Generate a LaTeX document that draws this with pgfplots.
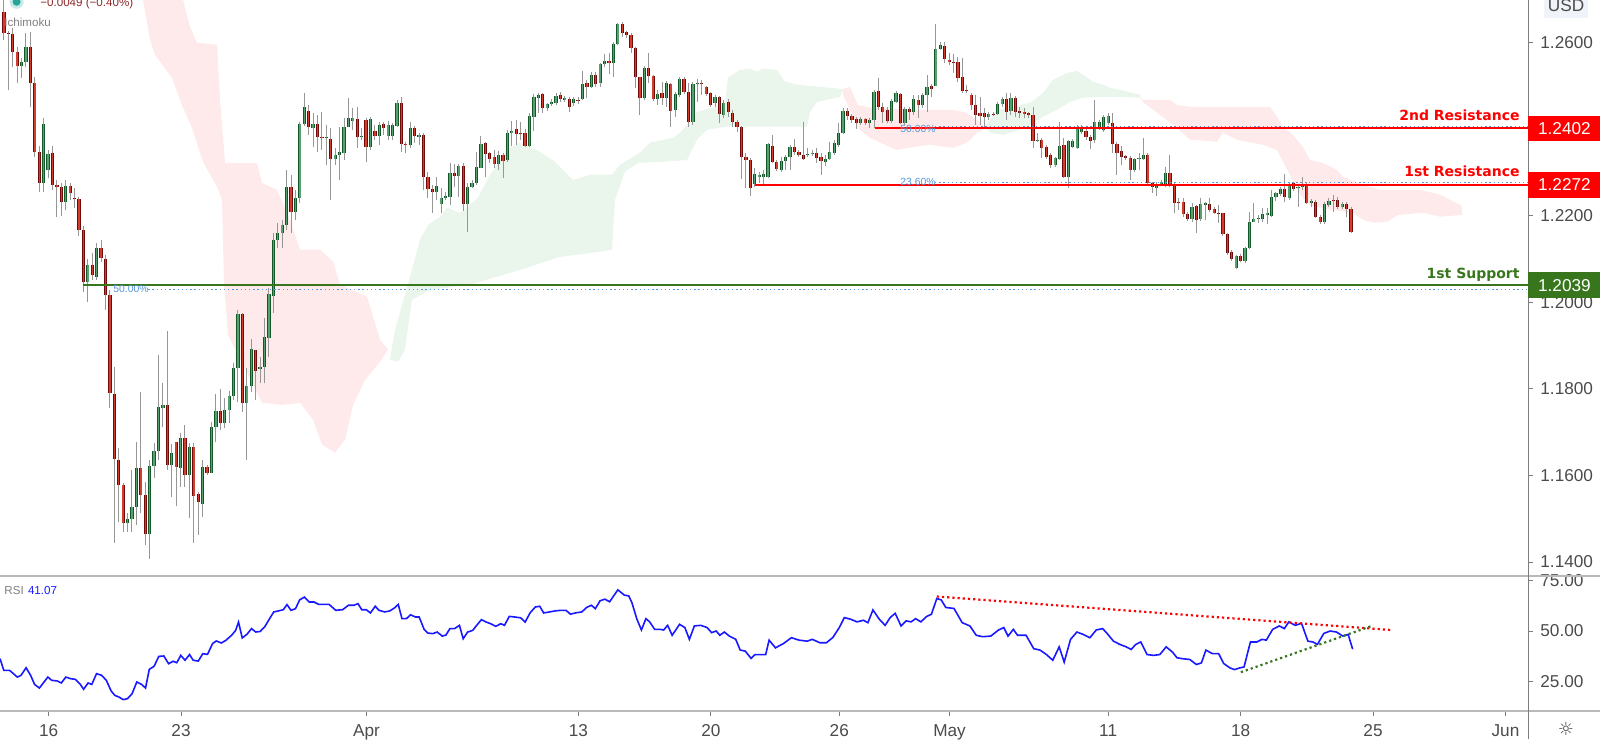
\documentclass[border=0pt]{standalone}
\usepackage{pgfplots}
\pgfplotsset{compat=1.18}
\usepackage{pgfplotstable}
\usepackage{fontspec}
\setmainfont{Liberation Sans}
\newfontfamily\dv{DejaVu Sans}
\definecolor{upfill}{RGB}{88,160,112}
\definecolor{upedge}{RGB}{18,88,40}
\definecolor{dnfill}{RGB}{208,62,45}
\definecolor{dnedge}{RGB}{115,10,10}
\definecolor{wick}{RGB}{150,150,150}
\definecolor{cloudR}{RGB}{254,234,234}
\definecolor{cloudG}{RGB}{234,245,236}
\definecolor{resred}{RGB}{255,0,0}
\definecolor{supgreen}{RGB}{56,118,29}
\definecolor{fibblue}{RGB}{85,150,220}
\definecolor{axgray}{RGB}{125,125,125}
\definecolor{sepgray}{RGB}{185,185,185}
\definecolor{txtgray}{RGB}{75,75,75}
\definecolor{rsiblue}{RGB}{25,25,255}
\definecolor{tealc}{RGB}{38,166,154}
\definecolor{chgred}{RGB}{140,40,40}
\definecolor{usdbg}{RGB}{240,243,250}
\newcommand\tfont{\fontsize{8.6}{10}\selectfont}
\newcommand\sfont{\fontsize{5.8}{7}\selectfont}

\pgfplotstableread{
t o h l c
0 1.2671 1.2699 1.2607 1.2623
1 1.2623 1.2627 1.2491 1.2620
2 1.2620 1.2634 1.2544 1.2579
3 1.2579 1.2590 1.2507 1.2547
4 1.2547 1.2565 1.2519 1.2556
5 1.2556 1.2623 1.2544 1.2590
6 1.2590 1.2625 1.2452 1.2507
7 1.2507 1.2521 1.2336 1.2348
8 1.2348 1.2362 1.2256 1.2276
9 1.2276 1.2426 1.2256 1.2413
10 1.2306 1.2352 1.2288 1.2343
11 1.2345 1.2362 1.2260 1.2272
12 1.2272 1.2283 1.2198 1.2267
13 1.2267 1.2276 1.2200 1.2232
14 1.2232 1.2283 1.2214 1.2269
15 1.2269 1.2276 1.2237 1.2253
16 1.2242 1.2265 1.2219 1.2239
17 1.2239 1.2244 1.2154 1.2168
18 1.2168 1.2177 1.2024 1.2048
19 1.2048 1.2101 1.2001 1.2087
20 1.2087 1.2115 1.2052 1.2064
21 1.2059 1.2138 1.2052 1.2126
22 1.2126 1.2145 1.2094 1.2103
23 1.2101 1.2110 1.1983 1.2018
24 1.2018 1.2029 1.1757 1.1791
25 1.1789 1.1851 1.1445 1.1639
26 1.1636 1.1664 1.1493 1.1579
27 1.1579 1.1583 1.1470 1.1491
28 1.1491 1.1514 1.1470 1.1500
29 1.1500 1.1613 1.1470 1.1528
30 1.1528 1.1678 1.1486 1.1618
31 1.1618 1.1793 1.1514 1.1556
32 1.1556 1.1586 1.1440 1.1465
33 1.1465 1.1636 1.1408 1.1622
34 1.1622 1.1676 1.1595 1.1657
35 1.1657 1.1879 1.1636 1.1759
36 1.1757 1.1814 1.1713 1.1763
37 1.1763 1.1934 1.1613 1.1625
38 1.1625 1.1673 1.1551 1.1653
39 1.1678 1.1678 1.1530 1.1620
40 1.1618 1.1699 1.1574 1.1687
41 1.1687 1.1717 1.1574 1.1602
42 1.1602 1.1676 1.1502 1.1666
43 1.1666 1.1676 1.1445 1.1553
44 1.1558 1.1562 1.1463 1.1539
45 1.1535 1.1636 1.1505 1.1620
46 1.1620 1.1625 1.1602 1.1606
47 1.1606 1.1724 1.1606 1.1713
48 1.1713 1.1789 1.1678 1.1750
49 1.1750 1.1800 1.1706 1.1722
50 1.1722 1.1780 1.1710 1.1752
51 1.1752 1.1796 1.1722 1.1784
52 1.1784 1.1860 1.1775 1.1849
53 1.1849 1.1983 1.1770 1.1974
54 1.1974 1.1976 1.1747 1.1768
55 1.1768 1.1849 1.1636 1.1807
56 1.1807 1.1916 1.1793 1.1893
57 1.1891 1.1891 1.1775 1.1842
58 1.1847 1.1874 1.1814 1.1851
59 1.1851 1.1964 1.1814 1.1921
60 1.1918 1.2034 1.1874 1.2020
61 1.2015 1.2161 1.1976 1.2145
62 1.2145 1.2184 1.2126 1.2161
63 1.2161 1.2191 1.2126 1.2179
64 1.2179 1.2306 1.2168 1.2267
65 1.2267 1.2295 1.2161 1.2209
66 1.2209 1.2260 1.2191 1.2242
67 1.2242 1.2417 1.2230 1.2413
68 1.2413 1.2484 1.2408 1.2452
69 1.2443 1.2456 1.2387 1.2406
70 1.2403 1.2438 1.2359 1.2413
71 1.2413 1.2433 1.2348 1.2383
72 1.2383 1.2440 1.2352 1.2380
73 1.2380 1.2410 1.2318 1.2383
74 1.2378 1.2403 1.2237 1.2332
75 1.2332 1.2357 1.2318 1.2341
76 1.2341 1.2406 1.2283 1.2348
77 1.2345 1.2426 1.2329 1.2406
78 1.2406 1.2473 1.2406 1.2426
79 1.2419 1.2450 1.2399 1.2426
80 1.2424 1.2452 1.2357 1.2383
81 1.2383 1.2403 1.2376 1.2385
82 1.2422 1.2426 1.2325 1.2359
83 1.2359 1.2429 1.2352 1.2424
84 1.2396 1.2410 1.2376 1.2385
85 1.2385 1.2417 1.2364 1.2410
86 1.2413 1.2417 1.2387 1.2403
87 1.2385 1.2419 1.2376 1.2410
88 1.2385 1.2415 1.2376 1.2410
89 1.2408 1.2468 1.2406 1.2461
90 1.2461 1.2475 1.2348 1.2366
91 1.2366 1.2371 1.2345 1.2364
92 1.2364 1.2417 1.2357 1.2403
93 1.2403 1.2408 1.2369 1.2385
94 1.2383 1.2392 1.2364 1.2387
95 1.2387 1.2392 1.2260 1.2290
96 1.2290 1.2302 1.2242 1.2262
97 1.2262 1.2272 1.2207 1.2256
98 1.2256 1.2290 1.2237 1.2269
99 1.2228 1.2265 1.2207 1.2242
100 1.2242 1.2256 1.2237 1.2246
101 1.2244 1.2322 1.2225 1.2299
102 1.2299 1.2320 1.2267 1.2292
103 1.2292 1.2320 1.2244 1.2316
104 1.2316 1.2322 1.2212 1.2228
105 1.2228 1.2276 1.2163 1.2267
106 1.2267 1.2283 1.2265 1.2276
107 1.2276 1.2348 1.2272 1.2313
108 1.2311 1.2385 1.2311 1.2366
109 1.2369 1.2371 1.2290 1.2343
110 1.2345 1.2348 1.2322 1.2332
111 1.2336 1.2352 1.2311 1.2320
112 1.2320 1.2350 1.2306 1.2341
113 1.2341 1.2345 1.2288 1.2327
114 1.2329 1.2399 1.2325 1.2392
115 1.2392 1.2419 1.2362 1.2396
116 1.2401 1.2422 1.2364 1.2389
117 1.2392 1.2417 1.2376 1.2389
118 1.2392 1.2401 1.2359 1.2362
119 1.2362 1.2438 1.2359 1.2431
120 1.2429 1.2482 1.2396 1.2475
121 1.2473 1.2484 1.2438 1.2480
122 1.2482 1.2484 1.2438 1.2450
123 1.2450 1.2461 1.2443 1.2459
124 1.2459 1.2470 1.2454 1.2463
125 1.2461 1.2484 1.2456 1.2477
126 1.2480 1.2486 1.2463 1.2470
127 1.2468 1.2477 1.2463 1.2473
128 1.2470 1.2475 1.2440 1.2452
129 1.2461 1.2475 1.2454 1.2470
130 1.2468 1.2475 1.2459 1.2467
131 1.2470 1.2535 1.2468 1.2505
132 1.2507 1.2514 1.2473 1.2498
133 1.2498 1.2533 1.2496 1.2526
134 1.2526 1.2533 1.2498 1.2505
135 1.2507 1.2553 1.2498 1.2551
136 1.2551 1.2574 1.2544 1.2558
137 1.2558 1.2577 1.2528 1.2553
138 1.2553 1.2602 1.2521 1.2597
139 1.2597 1.2646 1.2595 1.2644
140 1.2644 1.2648 1.2614 1.2623
141 1.2625 1.2627 1.2611 1.2618
142 1.2618 1.2623 1.2577 1.2588
143 1.2588 1.2590 1.2496 1.2521
144 1.2521 1.2521 1.2433 1.2473
145 1.2473 1.2547 1.2468 1.2542
146 1.2542 1.2577 1.2507 1.2523
147 1.2523 1.2526 1.2466 1.2470
148 1.2470 1.2491 1.2456 1.2482
149 1.2484 1.2510 1.2456 1.2473
150 1.2473 1.2512 1.2452 1.2507
151 1.2505 1.2507 1.2406 1.2443
152 1.2445 1.2486 1.2429 1.2482
153 1.2480 1.2521 1.2475 1.2517
154 1.2517 1.2521 1.2482 1.2486
155 1.2486 1.2507 1.2406 1.2417
156 1.2417 1.2510 1.2410 1.2505
157 1.2505 1.2517 1.2463 1.2507
158 1.2507 1.2514 1.2480 1.2505
159 1.2498 1.2500 1.2477 1.2482
160 1.2484 1.2486 1.2452 1.2456
161 1.2461 1.2480 1.2452 1.2475
162 1.2475 1.2477 1.2415 1.2436
163 1.2433 1.2468 1.2426 1.2461
164 1.2463 1.2470 1.2429 1.2440
165 1.2438 1.2445 1.2406 1.2417
166 1.2417 1.2422 1.2394 1.2406
167 1.2406 1.2408 1.2286 1.2336
168 1.2336 1.2345 1.2265 1.2329
169 1.2329 1.2334 1.2246 1.2265
170 1.2274 1.2311 1.2267 1.2297
171 1.2290 1.2302 1.2276 1.2295
172 1.2290 1.2306 1.2272 1.2297
173 1.2290 1.2369 1.2288 1.2366
174 1.2362 1.2387 1.2322 1.2325
175 1.2325 1.2329 1.2304 1.2309
176 1.2306 1.2336 1.2302 1.2327
177 1.2327 1.2341 1.2306 1.2336
178 1.2336 1.2364 1.2306 1.2359
179 1.2359 1.2378 1.2341 1.2348
180 1.2348 1.2352 1.2336 1.2341
181 1.2341 1.2417 1.2329 1.2332
182 1.2341 1.2357 1.2336 1.2343
183 1.2343 1.2352 1.2339 1.2345
184 1.2345 1.2357 1.2322 1.2334
185 1.2336 1.2345 1.2295 1.2327
186 1.2325 1.2341 1.2316 1.2332
187 1.2332 1.2371 1.2329 1.2348
188 1.2345 1.2376 1.2341 1.2369
189 1.2364 1.2415 1.2359 1.2392
190 1.2392 1.2450 1.2389 1.2443
191 1.2443 1.2450 1.2422 1.2431
192 1.2431 1.2436 1.2415 1.2422
193 1.2424 1.2429 1.2401 1.2415
194 1.2415 1.2429 1.2410 1.2424
195 1.2424 1.2426 1.2410 1.2415
196 1.2415 1.2426 1.2403 1.2422
197 1.2422 1.2491 1.2403 1.2486
198 1.2489 1.2519 1.2445 1.2452
199 1.2452 1.2461 1.2415 1.2440
200 1.2445 1.2452 1.2415 1.2419
201 1.2419 1.2470 1.2415 1.2466
202 1.2463 1.2489 1.2461 1.2484
203 1.2482 1.2484 1.2413 1.2415
204 1.2415 1.2452 1.2410 1.2447
205 1.2447 1.2452 1.2422 1.2440
206 1.2440 1.2480 1.2433 1.2470
207 1.2468 1.2480 1.2426 1.2456
208 1.2456 1.2484 1.2450 1.2480
209 1.2480 1.2526 1.2440 1.2498
210 1.2500 1.2505 1.2475 1.2493
211 1.2500 1.2644 1.2500 1.2586
212 1.2586 1.2602 1.2583 1.2595
213 1.2593 1.2602 1.2553 1.2563
214 1.2560 1.2577 1.2549 1.2556
215 1.2556 1.2574 1.2530 1.2553
216 1.2556 1.2567 1.2510 1.2519
217 1.2521 1.2565 1.2484 1.2489
218 1.2491 1.2503 1.2484 1.2489
219 1.2480 1.2484 1.2445 1.2456
220 1.2456 1.2480 1.2410 1.2433
221 1.2438 1.2475 1.2410 1.2431
222 1.2438 1.2450 1.2403 1.2429
223 1.2429 1.2440 1.2422 1.2436
224 1.2436 1.2440 1.2431 1.2435
225 1.2436 1.2463 1.2433 1.2459
226 1.2459 1.2475 1.2452 1.2470
227 1.2470 1.2484 1.2422 1.2440
228 1.2443 1.2484 1.2433 1.2473
229 1.2473 1.2477 1.2429 1.2440
230 1.2443 1.2452 1.2426 1.2438
231 1.2440 1.2450 1.2426 1.2436
232 1.2438 1.2440 1.2426 1.2433
233 1.2433 1.2452 1.2357 1.2373
234 1.2373 1.2392 1.2371 1.2376
235 1.2376 1.2380 1.2334 1.2357
236 1.2359 1.2364 1.2332 1.2336
237 1.2341 1.2345 1.2311 1.2318
238 1.2318 1.2336 1.2313 1.2334
239 1.2332 1.2417 1.2329 1.2362
240 1.2364 1.2380 1.2288 1.2290
241 1.2290 1.2376 1.2265 1.2373
242 1.2359 1.2378 1.2357 1.2373
243 1.2357 1.2410 1.2355 1.2403
244 1.2394 1.2410 1.2389 1.2403
245 1.2396 1.2406 1.2376 1.2383
246 1.2383 1.2387 1.2355 1.2373
247 1.2376 1.2468 1.2369 1.2417
248 1.2406 1.2422 1.2399 1.2417
249 1.2399 1.2433 1.2394 1.2429
250 1.2415 1.2438 1.2410 1.2431
251 1.2415 1.2438 1.2345 1.2366
252 1.2366 1.2371 1.2295 1.2345
253 1.2350 1.2362 1.2318 1.2336
254 1.2339 1.2341 1.2329 1.2334
255 1.2334 1.2339 1.2283 1.2306
256 1.2306 1.2334 1.2302 1.2332
257 1.2332 1.2345 1.2306 1.2334
258 1.2332 1.2380 1.2329 1.2341
259 1.2341 1.2345 1.2272 1.2276
260 1.2276 1.2279 1.2253 1.2267
261 1.2265 1.2279 1.2246 1.2274
262 1.2274 1.2283 1.2269 1.2279
263 1.2272 1.2313 1.2267 1.2299
264 1.2299 1.2341 1.2267 1.2272
265 1.2272 1.2276 1.2207 1.2230
266 1.2232 1.2242 1.2214 1.2230
267 1.2232 1.2242 1.2198 1.2205
268 1.2205 1.2209 1.2189 1.2193
269 1.2193 1.2230 1.2186 1.2221
270 1.2223 1.2225 1.2161 1.2191
271 1.2193 1.2242 1.2189 1.2228
272 1.2225 1.2232 1.2191 1.2230
273 1.2228 1.2242 1.2209 1.2214
274 1.2216 1.2221 1.2205 1.2207
275 1.2207 1.2225 1.2184 1.2205
276 1.2207 1.2207 1.2154 1.2158
277 1.2158 1.2161 1.2110 1.2115
278 1.2117 1.2122 1.2096 1.2101
279 1.2080 1.2110 1.2078 1.2108
280 1.2108 1.2112 1.2094 1.2096
281 1.2096 1.2128 1.2091 1.2126
282 1.2126 1.2209 1.2124 1.2186
283 1.2186 1.2230 1.2186 1.2193
284 1.2193 1.2202 1.2184 1.2195
285 1.2193 1.2219 1.2186 1.2205
286 1.2202 1.2219 1.2182 1.2207
287 1.2200 1.2260 1.2198 1.2244
288 1.2244 1.2256 1.2235 1.2253
289 1.2251 1.2267 1.2246 1.2262
290 1.2262 1.2297 1.2232 1.2244
291 1.2242 1.2279 1.2237 1.2274
292 1.2276 1.2279 1.2258 1.2262
293 1.2265 1.2272 1.2221 1.2267
294 1.2267 1.2290 1.2260 1.2269
295 1.2272 1.2279 1.2228 1.2230
296 1.2230 1.2239 1.2221 1.2235
297 1.2232 1.2237 1.2195 1.2198
298 1.2198 1.2202 1.2182 1.2186
299 1.2186 1.2232 1.2182 1.2228
300 1.2225 1.2242 1.2221 1.2235
301 1.2237 1.2249 1.2209 1.2235
302 1.2237 1.2244 1.2216 1.2221
303 1.2221 1.2232 1.2216 1.2228
304 1.2228 1.2232 1.2198 1.2216
305 1.2216 1.2221 1.2161 1.2163
}\candles

\pgfplotstableread{
x v
-1.835 36.4
-1.69 30.6
-1.47 30.6
-1.18 27.3
-1.04 28.2
-0.85 31.9
-0.68 28.2
-0.53 23.7
-0.35 21.9
-0.17 24.9
-0.03 27.3
0.12 25.7
0.33 25.4
0.48 24.4
0.65 27.3
0.84 26.5
1.01 26.2
1.20 23.7
1.32 21.3
1.49 24.4
1.63 23.7
1.81 29.0
2.00 28.2
2.18 25.7
2.36 20.5
2.50 18.3
2.65 17.5
2.82 16.2
2.98 16.7
3.15 19.1
3.33 24.9
3.51 23.7
3.66 21.9
3.80 31.1
3.98 32.6
4.16 37.5
4.35 37.7
4.53 33.9
4.70 35.1
4.84 34.4
4.99 38.0
5.15 35.6
5.32 38.4
5.46 35.6
5.65 35.2
5.82 38.8
6.00 38.5
6.19 43.8
6.33 45.1
6.52 44.1
6.69 45.4
6.91 47.9
7.06 50.3
7.17 54.4
7.31 46.6
7.49 48.4
7.66 51.2
7.82 49.5
7.99 49.8
8.17 52.3
8.32 55.6
8.50 59.4
8.68 59.9
8.86 60.5
9.00 63.0
9.15 60.2
9.32 61.0
9.48 65.4
9.66 66.7
9.84 64.3
10.02 64.3
10.20 63.1
10.38 63.1
10.59 63.1
10.84 60.2
11.10 60.5
11.32 62.7
11.53 62.7
11.68 63.5
11.82 60.5
11.99 60.5
12.15 58.9
12.33 62.2
12.47 60.2
12.69 59.4
12.88 59.9
13.05 61.3
13.20 63.1
13.34 56.1
13.51 56.1
13.66 58.0
13.85 56.9
13.99 56.9
14.18 50.7
14.32 49.0
14.50 48.7
14.67 49.5
14.86 47.5
15.00 48.0
15.15 51.2
15.33 51.2
15.51 52.8
15.65 46.2
15.82 49.5
16.01 50.3
16.16 52.8
16.34 55.6
16.52 54.4
16.69 53.6
16.88 52.3
17.07 53.6
17.21 52.8
17.39 57.2
17.60 56.9
17.82 56.5
17.99 54.4
18.18 59.0
18.37 61.8
18.54 62.2
18.69 58.9
18.91 59.4
19.12 59.9
19.34 60.2
19.53 60.2
19.70 58.3
19.92 59.0
20.13 59.4
20.31 61.6
20.49 62.7
20.64 61.0
20.82 64.9
21.00 65.7
21.18 64.4
21.49 70.3
21.73 67.7
21.90 67.3
22.02 64.0
22.21 55.8
22.38 50.5
22.55 56.1
22.69 54.5
22.88 50.8
23.10 50.8
23.22 50.5
23.37 52.8
23.54 47.9
23.82 53.3
24.02 51.7
24.19 45.9
24.38 52.5
24.62 52.8
24.86 51.7
25.03 49.2
25.20 50.0
25.34 47.9
25.51 49.5
25.70 47.5
25.94 45.9
26.11 40.6
26.30 40.1
26.52 36.5
26.67 38.4
26.88 38.4
27.07 38.4
27.20 45.5
27.44 41.7
27.75 43.9
28.04 46.7
28.33 45.5
28.64 45.0
28.83 45.9
29.12 44.2
29.36 44.2
29.60 46.7
29.85 51.7
30.04 56.6
30.28 55.8
30.52 54.5
30.76 55.3
30.93 54.1
31.12 60.4
31.36 55.8
31.58 52.8
31.77 56.6
31.96 58.7
32.18 52.5
32.37 55.0
32.56 54.5
32.73 56.1
32.93 54.5
33.14 57.1
33.33 58.3
33.53 66.0
33.70 65.3
33.87 61.6
34.18 61.1
34.49 54.1
34.78 52.5
35.02 47.9
35.26 47.2
35.57 47.5
35.86 50.5
36.06 51.7
36.22 47.5
36.42 50.8
36.58 47.9
36.90 47.9
37.19 41.3
37.43 40.6
37.67 38.4
37.91 35.6
38.15 42.2
38.34 34.7
38.58 45.9
38.82 49.5
39.06 48.3
39.31 46.7
39.55 50.5
39.79 51.2
39.96 48.8
40.20 45.0
40.44 43.4
40.68 42.2
40.87 40.9
41.04 43.4
41.23 44.6
41.47 38.4
41.71 38.0
41.95 38.4
42.19 42.2
42.43 39.6
42.60 36.8
42.84 36.3
43.08 36.0
43.33 33.5
43.52 34.3
43.69 40.6
43.93 38.9
44.17 38.9
44.36 34.0
44.60 31.8
44.77 31.0
44.96 31.8
45.13 32.3
45.37 44.6
45.61 44.6
45.81 45.9
45.97 45.5
46.21 50.8
46.46 52.5
46.65 51.2
46.82 54.5
47.06 52.8
47.30 53.8
47.54 45.0
47.73 44.6
47.90 43.4
48.14 48.8
48.38 50.0
48.62 49.5
48.86 47.5
49.06 48.3
49.23 41.07
}\rsi

\begin{document}
\begin{tikzpicture}
\useasboundingbox (0,0) rectangle (800pt,369.5pt);
% ---------------- price panel ----------------
\begin{axis}[
  at={(0pt,81.5pt)}, anchor=south west, scale only axis,
  width=764pt, height=288pt,
  xmin=-1.835, xmax=55.85, ymin=1.13677, ymax=1.26987,
  clip=false, hide x axis,
  axis y line*=right, y axis line style={draw=none},
  ytick={1.14,1.16,1.18,1.2,1.22,1.24,1.26},
  yticklabels={1.1400,1.1600,1.1800,1.2000,1.2200,1.2400,1.2600},
  tick align=outside, major tick length=2.5pt,
  tick style={draw=axgray, line width=0.5pt},
  yticklabel style={anchor=west, inner sep=0pt, xshift=3.5pt, font=\tfont, text=txtgray},
  candle/.style={draw=none, mark=none, forget plot,
    error bars/y dir=plus, error bars/y explicit, error bars/error mark=none},
]
% Ichimoku cloud
\addplot[fill=cloudR, draw=none, forget plot] coordinates {
(3.564,1.2699) (5.074,1.2699) (5.338,1.2637) (5.602,1.2600) (6.357,1.2595) (6.471,1.2468) (6.660,1.2322) (7.868,1.2322) (8.056,1.2276) (8.622,1.2260) (9.113,1.2191) (9.491,1.2122) (10.246,1.2122) (10.736,1.2094) (11.001,1.2041) (12.020,1.2013) (12.511,1.1914) (12.813,1.1891) (12.511,1.1863) (11.945,1.1821) (11.492,1.1763) (11.190,1.1683) (10.812,1.1653) (10.322,1.1671) (9.982,1.1729) (9.491,1.1768) (8.849,1.1763) (8.056,1.1768) (6.772,1.1925) (6.621,1.2045) (6.546,1.2237) (6.357,1.2267) (5.829,1.2325) (5.414,1.2403) (5.036,1.2456) (4.659,1.2519) (4.017,1.2572) (3.828,1.2607)} --cycle;
\addplot[fill=cloudG, draw=none, forget plot] coordinates {
(12.888,1.1868) (13.077,1.1937) (13.454,1.2018) (13.718,1.2075) (14.020,1.2145) (14.322,1.2179) (14.775,1.2198) (15.039,1.2219) (15.530,1.2207) (15.908,1.2225) (16.210,1.2242) (16.663,1.2295) (17.040,1.2329) (17.418,1.2357) (17.795,1.2369) (18.173,1.2359) (18.550,1.2348) (19.116,1.2325) (19.796,1.2283) (20.438,1.2295) (21.268,1.2295) (21.570,1.2318) (22.325,1.2346) (22.703,1.2369) (23.571,1.2380) (23.835,1.2392) (24.213,1.2415) (24.477,1.2440) (25.081,1.2450) (25.534,1.2456) (25.647,1.2519) (26.100,1.2537) (26.478,1.2540) (26.742,1.2533) (26.969,1.2540) (27.497,1.2537) (27.799,1.2510) (28.252,1.2503) (29.989,1.2493) (29.876,1.2475) (29.007,1.2463) (28.743,1.2440) (28.630,1.2406) (25.610,1.2406) (24.854,1.2399) (24.477,1.2376) (24.289,1.2352) (24.100,1.2329) (23.194,1.2325) (22.250,1.2322) (21.759,1.2302) (21.381,1.2237) (21.268,1.2122) (20.815,1.2117) (19.305,1.2105) (17.795,1.2075) (15.908,1.2041) (14.398,1.2029) (13.718,1.2006) (13.454,1.1891) (13.190,1.1863)} --cycle;
\addplot[fill=cloudR, draw=none, forget plot] coordinates {
(29.989,1.2493) (30.253,1.2498) (30.555,1.2456) (31.008,1.2450) (32.631,1.2445) (34.141,1.2445) (34.670,1.2438) (35.160,1.2415) (35.425,1.2403) (35.047,1.2392) (34.670,1.2369) (34.141,1.2357) (33.273,1.2364) (32.631,1.2359) (32.027,1.2352) (31.763,1.2359) (31.008,1.2380) (30.630,1.2399) (30.253,1.2445) (29.989,1.2480)} --cycle;
\addplot[fill=cloudG, draw=none, forget plot] coordinates {
(35.349,1.2406) (35.802,1.2445) (36.406,1.2452) (37.048,1.2461) (37.538,1.2484) (37.916,1.2514) (38.444,1.2530) (38.822,1.2535) (39.048,1.2526) (39.426,1.2510) (39.803,1.2503) (40.067,1.2496) (40.445,1.2491) (41.200,1.2480) (41.200,1.2473) (40.445,1.2475) (39.803,1.2475) (39.048,1.2473) (38.557,1.2463) (38.067,1.2445) (37.538,1.2429) (37.048,1.2410) (36.670,1.2399) (36.028,1.2387) (35.538,1.2392)} --cycle;
\addplot[fill=cloudR, draw=none, forget plot] coordinates {
(41.200,1.2477) (41.313,1.2468) (42.333,1.2468) (42.597,1.2456) (43.088,1.2452) (46.108,1.2452) (46.372,1.2429) (46.599,1.2406) (46.976,1.2387) (47.354,1.2359) (47.618,1.2329) (48.109,1.2322) (48.637,1.2306) (48.864,1.2290) (49.619,1.2272) (50.260,1.2260) (51.770,1.2260) (52.525,1.2249) (52.903,1.2237) (53.356,1.2223) (53.356,1.2202) (52.525,1.2198) (51.884,1.2207) (50.940,1.2202) (50.525,1.2186) (49.996,1.2184) (49.619,1.2191) (49.241,1.2207) (48.373,1.2214) (47.618,1.2225) (47.240,1.2249) (46.863,1.2295) (46.372,1.2352) (45.843,1.2364) (44.862,1.2376) (44.334,1.2392) (44.107,1.2371) (43.088,1.2376) (42.597,1.2403) (41.955,1.2433) (41.313,1.2463)} --cycle;
% wicks
\addplot[candle, error bars/error bar style={draw=wick, line width=0.5pt}]
  table[x expr=\thisrow{t}*0.16674-1.6874, y=l, y error expr=\thisrow{h}-\thisrow{l}] {\candles};
% up bodies
\addplot[candle, restrict expr to domain={\thisrow{c}-\thisrow{o}}{0:1},
  error bars/error bar style={draw=upedge, line width=1.6pt}]
  table[x expr=\thisrow{t}*0.16674-1.6874, y=o, y error expr=\thisrow{c}-\thisrow{o}] {\candles};
\addplot[candle, restrict expr to domain={\thisrow{c}-\thisrow{o}}{0:1},
  error bars/error bar style={draw=upfill, line width=0.7pt}]
  table[x expr=\thisrow{t}*0.16674-1.6874, y=o, y error expr=\thisrow{c}-\thisrow{o}] {\candles};
% down bodies
\addplot[candle, restrict expr to domain={\thisrow{o}-\thisrow{c}}{0.00001:1},
  error bars/error bar style={draw=dnedge, line width=1.6pt}]
  table[x expr=\thisrow{t}*0.16674-1.6874, y=c, y error expr=\thisrow{o}-\thisrow{c}] {\candles};
\addplot[candle, restrict expr to domain={\thisrow{o}-\thisrow{c}}{0.00001:1},
  error bars/error bar style={draw=dnfill, line width=0.7pt}]
  table[x expr=\thisrow{t}*0.16674-1.6874, y=c, y error expr=\thisrow{o}-\thisrow{c}] {\candles};
% fib dotted lines
\addplot[fibblue, line width=0.7pt, dash pattern=on 0.7pt off 1.4pt, forget plot] coordinates {(3.756,1.2030) (55.85,1.2030)};
\addplot[fibblue, line width=0.7pt, dash pattern=on 0.7pt off 1.4pt, forget plot] coordinates {(33.46,1.24052) (55.85,1.24052)};
\addplot[fibblue, line width=0.7pt, dash pattern=on 0.7pt off 1.4pt, forget plot] coordinates {(33.46,1.22775) (55.85,1.22775)};
% levels
\addplot[resred, line width=1pt, forget plot] coordinates {(31.197,1.2402) (55.85,1.2402)};
\addplot[resred, line width=1pt, forget plot] coordinates {(26.666,1.2272) (55.85,1.2272)};
\addplot[supgreen, line width=1pt, forget plot] coordinates {(1.299,1.2039) (55.85,1.2039)};
% fib labels
\node[anchor=west, inner sep=0pt, text=fibblue, font=\fontsize{5.2}{6}\selectfont] at (axis cs:2.43,1.2031) {50.00\%};
\node[anchor=west, inner sep=0pt, text=fibblue, font=\fontsize{5.2}{6}\selectfont] at (axis cs:32.14,1.2401) {50.00\%};
\node[anchor=west, inner sep=0pt, text=fibblue, font=\fontsize{5.2}{6}\selectfont] at (axis cs:32.14,1.2279) {23.60\%};
% level names
\node[anchor=base east, inner sep=0pt, text=resred, font=\dv\bfseries\fontsize{7}{8}\selectfont] at (axis cs:55.546,1.2420) {2nd Resistance};
\node[anchor=base east, inner sep=0pt, text=resred, font=\dv\bfseries\fontsize{7}{8}\selectfont] at (axis cs:55.546,1.2290) {1st Resistance};
\node[anchor=base east, inner sep=0pt, text=supgreen, font=\dv\bfseries\fontsize{7}{8}\selectfont] at (axis cs:55.546,1.2056) {1st Support};
\coordinate (R2) at (axis cs:55.85,1.2402);
\coordinate (R1) at (axis cs:55.85,1.2272);
\coordinate (S1) at (axis cs:55.85,1.2039);
\end{axis}
% ---------------- RSI panel ----------------
\begin{axis}[
  at={(0pt,14pt)}, anchor=south west, scale only axis,
  width=764pt, height=67.5pt,
  xmin=-1.835, xmax=55.85, ymin=10.6, ymax=77.1,
  clip=false,
  axis x line*=bottom, axis y line*=right,
  x axis line style={draw=none}, y axis line style={draw=none},
  xtick={0,5,12,20,25,29.85,34.01,40,45,50,55},
  xticklabels={16,23,Apr,13,20,26,May,11,18,25,Jun},
  ytick={25,50,75}, yticklabels={25.00,50.00,75.00},
  tick align=outside, major tick length=2.5pt,
  tick style={draw=axgray, line width=0.5pt},
  yticklabel style={anchor=west, inner sep=0pt, xshift=3.5pt, font=\tfont, text=txtgray},
  xticklabel style={anchor=north, inner sep=0pt, yshift=-4pt, font=\tfont, text=txtgray},
]
\addplot[rsiblue, line width=0.8pt, forget plot] table[x=x, y=v] {\rsi};
\addplot[resred, line width=1.1pt, dash pattern=on 1.1pt off 1.5pt, forget plot] coordinates {(33.53,67.0) (50.67,50.5)};
\addplot[supgreen, line width=1.1pt, dash pattern=on 1.1pt off 1.5pt, forget plot] coordinates {(45.01,29.7) (49.95,52.5)};
\end{axis}
% ---------------- frame, boxes, legends ----------------
\draw[sepgray, line width=0.6pt] (0pt,81.5pt) -- (800pt,81.5pt);
\draw[sepgray, line width=0.6pt] (0pt,14pt) -- (800pt,14pt);
\draw[axgray, line width=0.5pt] (764pt,0pt) -- (764pt,369.5pt);
\node[anchor=west, fill=resred, text=white, inner sep=0pt, minimum width=36pt, minimum height=12.5pt, font=\tfont] at (R2) {1.2402};
\node[anchor=west, fill=resred, text=white, inner sep=0pt, minimum width=36pt, minimum height=13pt, font=\tfont] at (R1) {1.2272};
\node[anchor=west, fill=supgreen, text=white, inner sep=0pt, minimum width=36pt, minimum height=13pt, font=\tfont] at (S1) {1.2039};
\fill[usdbg] (772pt,360.5pt) rectangle (794pt,372pt);
\node[anchor=base, inner sep=0pt, text=txtgray, font=\tfont] at (783pt,363.5pt) {USD};
\fill[tealc!25] (8.3pt,368.6pt) circle (3.5pt);
\fill[tealc] (8.3pt,368.6pt) circle (2pt);
\node[anchor=base west, inner sep=0pt, text=chgred, font=\sfont] at (20pt,366.3pt) {−0.0049 (−0.40\%)};
\node[anchor=base west, inner sep=0pt, text=gray, font=\sfont] at (2pt,356.3pt) {Ichimoku};
\node[anchor=base west, inner sep=0pt, text=gray, font=\sfont] at (2pt,72pt) {RSI};
\node[anchor=base west, inner sep=0pt, text=rsiblue, font=\sfont] at (13.8pt,72pt) {41.07};
\node[text=txtgray, inner sep=0pt, font=\dv\fontsize{9}{10}\selectfont] at (783pt,4.8pt) {☼};
\end{tikzpicture}
\end{document}
